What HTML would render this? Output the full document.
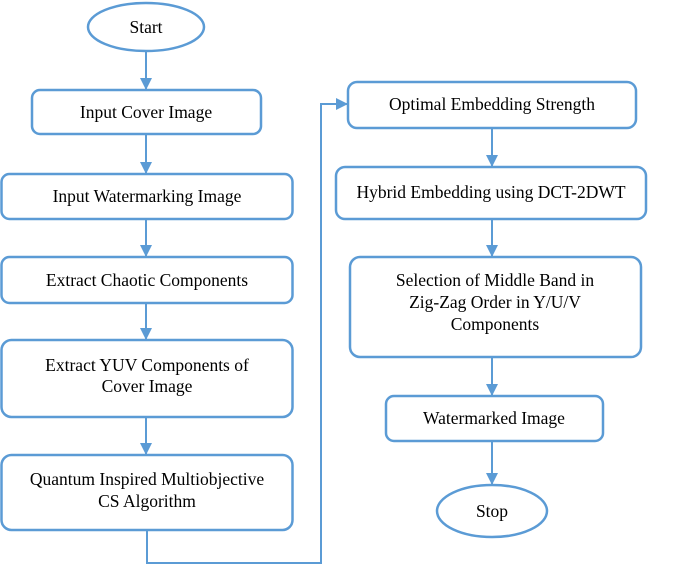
<!DOCTYPE html>
<html><head><meta charset="utf-8"><style>
html,body{margin:0;padding:0;background:#fff;}
svg{display:block;}
text{font-family:"Liberation Serif",serif;font-size:17.5px;fill:#000;text-anchor:middle;}
</style></head><body>
<svg width="685" height="566" viewBox="0 0 685 566">
<defs><marker id="a" markerWidth="12" markerHeight="12" refX="11" refY="6" orient="auto" markerUnits="userSpaceOnUse"><path d="M0,0 L12,6 L0,12 z" fill="#5b9bd5"/></marker></defs>
<g fill="none" stroke="#5b9bd5" stroke-width="2.5">
<ellipse cx="146" cy="27" rx="58" ry="24"/>
<rect x="32" y="90" width="229" height="44" rx="8"/>
<rect x="1.5" y="174" width="291" height="45" rx="8"/>
<rect x="1.5" y="257" width="291" height="46" rx="8"/>
<rect x="1.5" y="340" width="291" height="77" rx="10"/>
<rect x="1.5" y="455" width="291" height="75" rx="10"/>
<rect x="348" y="82" width="288" height="46" rx="9"/>
<rect x="336" y="167" width="310" height="52" rx="9"/>
<rect x="350" y="257" width="291" height="100" rx="10"/>
<rect x="386" y="396" width="217" height="45" rx="8"/>
<ellipse cx="492" cy="511" rx="55" ry="26"/>
<g stroke-width="2" marker-end="url(#a)">
<line x1="146" y1="51" x2="146" y2="89"/>
<line x1="146" y1="134" x2="146" y2="173"/>
<line x1="146" y1="219" x2="146" y2="256"/>
<line x1="146" y1="303" x2="146" y2="339"/>
<line x1="146" y1="417" x2="146" y2="454"/>
<polyline points="147,530 147,563 321,563 321,104 347,104"/>
<line x1="492" y1="128" x2="492" y2="166"/>
<line x1="492" y1="219" x2="492" y2="256"/>
<line x1="492" y1="357" x2="492" y2="395"/>
<line x1="492" y1="441" x2="492" y2="484"/>
</g></g>
<text x="146" y="33">Start</text>
<text x="146" y="118">Input Cover Image</text>
<text x="147" y="202">Input Watermarking Image</text>
<text x="147" y="286">Extract Chaotic Components</text>
<text x="147" y="371">Extract YUV Components of</text>
<text x="147" y="392">Cover Image</text>
<text x="147" y="485">Quantum Inspired Multiobjective</text>
<text x="147" y="507">CS Algorithm</text>
<text x="492" y="110">Optimal Embedding Strength</text>
<text x="491" y="198">Hybrid Embedding using DCT-2DWT</text>
<text x="495" y="286">Selection of Middle Band in</text>
<text x="495" y="308">Zig-Zag Order in Y/U/V</text>
<text x="495" y="330">Components</text>
<text x="494" y="424">Watermarked Image</text>
<text x="492" y="517">Stop</text>
</svg>
</body></html>
